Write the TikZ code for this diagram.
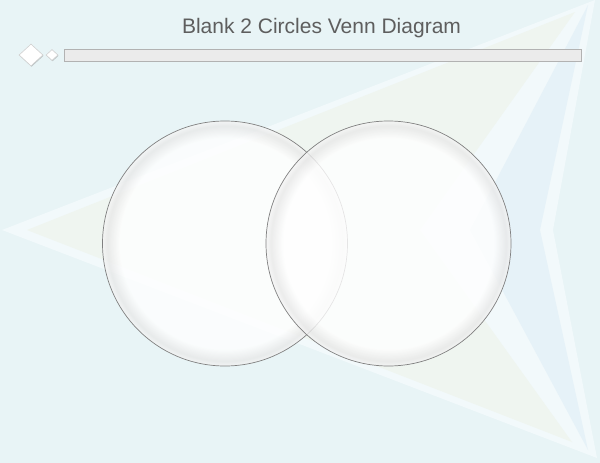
\documentclass[tikz,border=0pt]{standalone}
\usepackage{fontspec}
\setmainfont{Liberation Sans}
\usepackage{tikz}
\usepackage{xcolor}
\usetikzlibrary{shapes.geometric, shadows, positioning}

\definecolor{bgcyan}{HTML}{E8F4F6}
\definecolor{raylight}{HTML}{F2F9FB}
\definecolor{raygreen}{HTML}{EFF5F0}
\definecolor{rayblue}{HTML}{E6F2F8}
\definecolor{titlegray}{HTML}{5E5E5E}
\definecolor{barfill}{HTML}{EBEBEB}

\pgfdeclareradialshading{glassring}{\pgfpoint{0bp}{0bp}}{%
  color(0bp)=(white); color(21.5bp)=(white); color(24bp)=(black!9);
  color(25bp)=(black!4); color(50bp)=(black!4)}

\begin{document}
\begin{tikzpicture}[x=1pt, y=-1pt,
  vennset/.style={circle, shade, shading=glassring, fill opacity=0.8,
    draw=black!50, draw opacity=1, line width=0.7pt, inner sep=0pt, minimum size=245pt},
  titlebar/.style={rectangle, fill=barfill, draw=black!30, line width=0.6pt, inner sep=0pt,
    minimum width=517pt, minimum height=12pt,
    drop shadow={shadow xshift=0.8pt, shadow yshift=-0.8pt, fill=black, opacity=0.3}},
  gem/.style={diamond, fill=white, draw=black!18, line width=0.6pt, inner sep=0pt,
    drop shadow={shadow xshift=0.6pt, shadow yshift=-0.8pt, fill=black, opacity=0.2}}]
\useasboundingbox (0,0) rectangle (600,463);
% Background rays
\fill[bgcyan] (0,0) rectangle (600,463);
\fill[raylight] (2,230) -- (595,0) -- (553,230) -- (597,458) -- cycle;
\fill[raygreen] (27,230) -- (575,12) -- (420,230) -- (572,442) -- cycle;
\fill[rayblue] (588,5) -- (470,230) -- (588,450) -- (540,230) -- cycle;
% Title and bar
\node[anchor=base, text=titlegray, font=\fontsize{21}{25}\selectfont] (title) at (321.5,33.5) {Blank 2 Circles Venn Diagram};
\node[titlebar] (bar) at (322.5,55) {};
\node[gem, minimum width=24pt, minimum height=22pt] (bigdiamond) at (31,55) {};
\node[gem, minimum width=12pt, minimum height=11pt] (smalldiamond) at (52,55) {};
% Two sets
\node[vennset] (seta) at (225,243.5) {};
\node[vennset] (setb) at (388.5,243.5) {};
\end{tikzpicture}
\end{document}
